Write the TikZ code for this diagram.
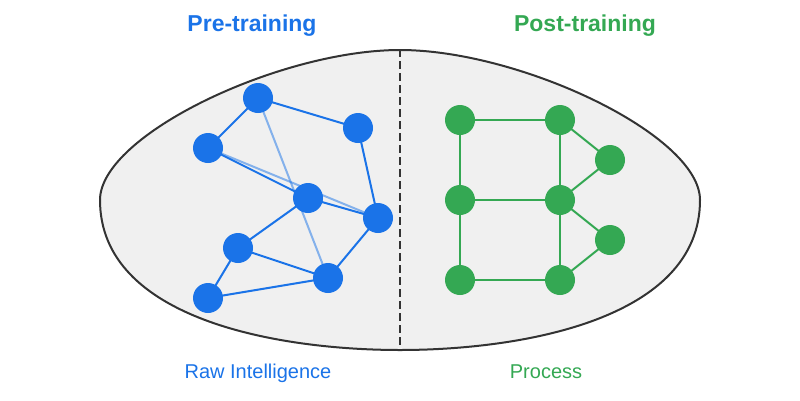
\documentclass[tikz,border=0pt]{standalone}
\usepackage{fontspec}
\setmainfont{Liberation Sans}
\usetikzlibrary{backgrounds}
\definecolor{preblue}{HTML}{1A73E8}
\definecolor{postgreen}{HTML}{34A853}
\definecolor{lensgray}{HTML}{F0F0F0}
\definecolor{rimgray}{HTML}{333333}

\begin{document}
\begin{tikzpicture}[
  x=1pt,y=-1pt,
  bdot/.style={circle,fill=preblue,minimum size=30pt,inner sep=0pt},
  gdot/.style={circle,fill=postgreen,minimum size=30pt,inner sep=0pt},
  blink/.style={draw=preblue,line width=2pt},
  faint/.style={draw=preblue,draw opacity=.5,line width=2pt},
  glink/.style={draw=postgreen,line width=2pt},
  title/.style={font=\fontsize{23}{27}\selectfont\bfseries,anchor=base},
  caption/.style={font=\fontsize{20}{24}\selectfont,anchor=base}]
  \useasboundingbox (0,0) rectangle (800,400);
  % titles and captions
  \node[title,text=preblue] (pretitle) at (252,31) {Pre-training};
  \node[title,text=postgreen] (posttitle) at (585,31) {Post-training};
  \node[caption,text=preblue] (rawlabel) at (258,378) {Raw Intelligence};
  \node[caption,text=postgreen] (proclabel) at (546,378) {Process};
  % pre-training graph
  \node[bdot] (b1) at (258,98) {};
  \node[bdot] (b2) at (208,148) {};
  \node[bdot] (b3) at (358,128) {};
  \node[bdot] (b4) at (308,198) {};
  \node[bdot] (b5) at (378,218) {};
  \node[bdot] (b6) at (238,248) {};
  \node[bdot] (b7) at (328,278) {};
  \node[bdot] (b8) at (208,298) {};
  % post-training graph
  \node[gdot] (g1) at (460,120) {};
  \node[gdot] (g2) at (560,120) {};
  \node[gdot] (g3) at (610,160) {};
  \node[gdot] (g4) at (460,200) {};
  \node[gdot] (g5) at (560,200) {};
  \node[gdot] (g6) at (610,240) {};
  \node[gdot] (g7) at (460,280) {};
  \node[gdot] (g8) at (560,280) {};
  \begin{scope}[on background layer]
    \draw[fill=lensgray,draw=rimgray,line width=2pt]
      (100,200) .. controls (100,135) and (280,50) .. (400,50)
      .. controls (520,50) and (700,135) .. (700,200)
      .. controls (700,320) and (520,350) .. (400,350)
      .. controls (280,350) and (100,320) .. (100,200) -- cycle;
    \coordinate (cuttop) at (400,49);
    \coordinate (cutbot) at (400,349);
    \draw[rimgray,line width=2pt,dash pattern=on 8pt off 4pt] (cuttop) -- (cutbot);
    \draw[faint] (b1.center) -- (b7.center);
    \draw[faint] (b2.center) -- (b5.center);
    \foreach \u/\v in {b1/b2,b1/b3,b3/b5,b2/b4,b4/b5,b4/b6,b6/b7,b6/b8,b8/b7,b7/b5}
      \draw[blink] (\u.center) -- (\v.center);
    \foreach \u/\v in {g1/g2,g1/g4,g4/g7,g2/g5,g5/g8,g4/g5,g7/g8,g2/g3,g3/g5,g5/g6,g6/g8}
      \draw[glink] (\u.center) -- (\v.center);
  \end{scope}
\end{tikzpicture}
\end{document}
